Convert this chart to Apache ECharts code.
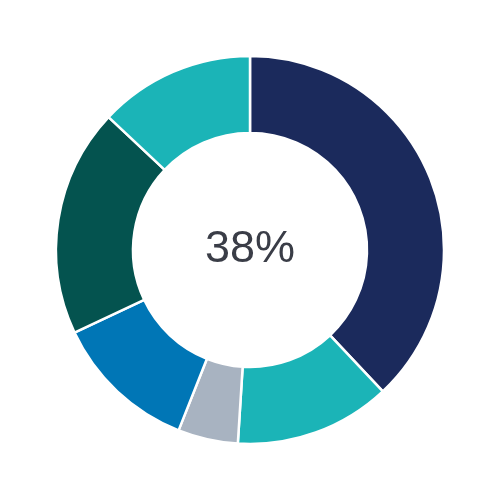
<!DOCTYPE html>
<html>
<head>
<meta charset="utf-8">
<script src="https://cdn.jsdelivr.net/npm/echarts@6/dist/echarts.min.js"></script>
<style>html,body{margin:0;padding:0;background:#fff}#c{width:500px;height:500px}</style>
</head>
<body>
<div id="c"></div>
<script>
const categories = ['A', 'B', 'C', 'D', 'E', 'F'];
const values = [38, 13, 5, 12, 19, 13];
const colors = ['#1b2a5c', '#1bb4b7', '#a8b3c1', '#0076b6', '#04534f', '#1bb4b7'];
const centerLabel = '38%';

const chart = echarts.init(document.getElementById('c'), null, {renderer: 'canvas'});
chart.setOption({
  animation: false,
  graphic: [{
    type: 'text', left: 'center', top: 'middle',
    style: {text: centerLabel, fontSize: 45, fontFamily: 'Liberation Sans, Arial, sans-serif', fill: '#3a3d47'}
  }],
  series: [{
    type: 'pie',
    center: [250, 250],
    radius: [117, 194],
    startAngle: 90,
    clockwise: true,
    label: {show: false},
    labelLine: {show: false},
    itemStyle: {borderColor: '#fff', borderWidth: 2.5},
    emphasis: {disabled: true},
    data: categories.map((n, i) => ({name: n, value: values[i], itemStyle: {color: colors[i]}}))
  }]
});
</script>
</body>
</html>
